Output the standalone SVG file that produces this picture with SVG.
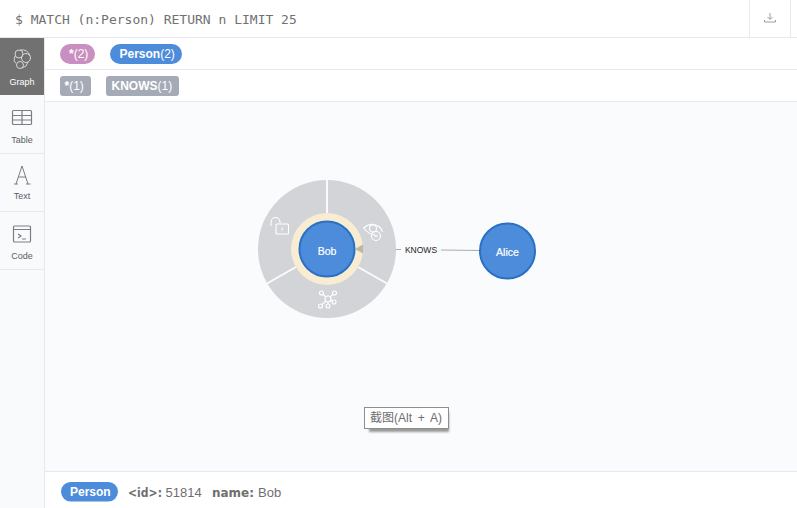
<svg xmlns="http://www.w3.org/2000/svg" width="797" height="508" viewBox="0 0 797 508">
<defs><filter id="blur" x="-10%" y="-30%" width="120%" height="160%"><feGaussianBlur stdDeviation="1"/></filter></defs>
<style>
text{font-family:"Liberation Sans",Arial,sans-serif}
.rule{stroke:#e6e9ef;stroke-width:1;fill:none}
.tab{font-size:9px;fill:#5a5d63;text-anchor:middle}
.ic{fill:none;stroke:#7b7e84;stroke-width:1.2}
.pill{font-size:12px;fill:#fff}
.w{fill:none;stroke:#fff;stroke-width:1.1}
.node{fill:#4c8cdb;stroke:#2a70c3;stroke-width:2}
.nt{font-size:10.500px;fill:#fff;text-anchor:middle;font-weight:500;stroke:#fff;stroke-width:.2}
.key{font-family:"DejaVu Sans",sans-serif;font-weight:bold;font-size:11.500px;fill:#6f6f70}
.val{font-size:13px;fill:#6f6f70}
</style>
<rect width="797" height="508" fill="#fff"/>
<rect x="45" y="102" width="752" height="369" fill="#fafbfd"/>
<rect x="0" y="38" width="45" height="470" fill="#f9fafc"/>
<g id="header">
<text x="15" y="24" style="font-family:'DejaVu Sans Mono','Liberation Mono',monospace" font-size="13" fill="#717172">$ MATCH (n:Person) RETURN n LIMIT 25</text>
<path class="rule" d="M0 37.500H797M749.500 0V37M790.500 0V37"/>
<path d="M770 13v6M767.500 17l2.500 2.500 2.500-2.500M764.500 20v2h11v-2" fill="none" stroke="#9a9da3" stroke-width="1"/>
</g>
<g id="sidebar">
<rect x="0" y="38" width="44.500" height="57" fill="#717172"/>
<path class="rule" d="M44.500 38V508M0 153.500H45M0 211.500H45M0 269.500H45"/>
<g fill="none" stroke="#d5d6d8" stroke-width="1"><circle cx="19" cy="54" r="4"/><circle cx="26" cy="58" r="4.500"/><circle cx="20" cy="65" r="3.500"/><path d="M15 56q-2 6 1 7M20 50q8-1 10 6M28 62q-1 5-6 6"/></g>
<text class="tab" x="22" y="85" style="fill:#fff">Graph</text>
<g class="ic"><rect x="12.500" y="110.500" width="19" height="14" rx="1"/><path d="M12.500 115.500h19M12.500 120h19M22 110.500v14"/></g>
<text class="tab" x="22" y="143">Table</text>
<path d="M14 184h4M26 184h4.500M16 184l6-18 6 18M18 177h8" fill="none" stroke="#7b7e84" stroke-width="1"/>
<text class="tab" x="22" y="199">Text</text>
<g class="ic"><rect x="13.500" y="226" width="17" height="16" rx="1"/><path d="M13.500 229.500h17M18 234l3 2-3 2M22 239h4"/></g>
<text class="tab" x="22" y="259">Code</text>
</g>
<g id="legend">
<path class="rule" d="M45 69.500H797M45 101.500H797"/>
<rect x="60" y="44" width="35" height="20" rx="10" fill="#c88fc0"/>
<text class="pill" x="69" y="58"><tspan font-weight="bold">*</tspan>(2)</text>
<rect x="110" y="44" width="72" height="20" rx="10" fill="#4c8cdb"/>
<text class="pill" x="119.500" y="58"><tspan font-weight="bold">Person</tspan>(2)</text>
<rect x="60" y="76" width="31" height="20" rx="3" fill="#a5abb6"/>
<text class="pill" x="64.500" y="90"><tspan font-weight="bold">*</tspan>(1)</text>
<rect x="106" y="76" width="73" height="20" rx="3" fill="#a5abb6"/>
<text class="pill" x="111.500" y="90"><tspan font-weight="bold">KNOWS</tspan>(1)</text>
</g>
<g id="connectors">
<path d="M396 249.500H401M441 250L480 250.500" stroke="#a5abb6" stroke-width="1" fill="none"/>
<text x="421" y="253" font-size="8.500" fill="#222" text-anchor="middle">KNOWS</text>
</g>
<g id="node-bob">
<circle cx="327" cy="249" r="69" fill="#d2d4d8"/>
<path d="M327 180V213M267 283.500L296 267M387 283.500L358 267" stroke="#fbfbfd" stroke-width="2" fill="none"/>
<circle cx="327" cy="249" r="36" fill="#f8ecd2"/>
<circle class="node" cx="327" cy="249" r="27.500"/>
<path d="M355 249l8-4.500v9z" fill="#bdb89f"/>
<text class="nt" x="327" y="255">Bob</text>
<g class="w"><rect x="276" y="224" width="12.500" height="10" rx="1"/><path d="M271 226v-4a4.500 4.500 0 0 1 9 0v1M282.200 227.500v3"/></g>
<g class="w"><path d="M363.500 228q8-7 16-1q3 3 3 5M363.500 228q6 7 12 7"/><circle cx="373" cy="228.500" r="3.500"/><circle cx="376" cy="236" r="4.500"/><path d="M374 236h4"/></g>
<g class="w"><circle cx="328" cy="299" r="3"/><circle cx="321.500" cy="293" r="2"/><circle cx="334.500" cy="293" r="2"/><circle cx="320.500" cy="306" r="2"/><circle cx="334" cy="302" r="2"/><circle cx="328" cy="306" r="2"/><path d="M323 294.500l3 2.500M333 294.500l-3 2.500M322 304.500l4-3.500M331 300l2 1.200M328 302v2"/></g>
</g>
<g id="node-alice">
<circle class="node" cx="507.500" cy="251" r="27.500"/>
<text class="nt" x="507.500" y="256">Alice</text>
</g>
<g id="tooltip">
<rect x="369" y="412" width="80" height="20" fill="#999" filter="url(#blur)"/>
<rect x="364.500" y="407.500" width="84" height="21" fill="#fff" stroke="#8e8e8e"/>
<text x="370" y="422" font-size="12" word-spacing="2.500" fill="#6e6e6e" style="font-family:'Liberation Sans','Noto Sans CJK SC',sans-serif">截图(Alt + A)</text>
</g>
<g id="status">
<path class="rule" d="M45 471.500H797"/>
<rect x="61" y="482" width="57" height="19.500" rx="9.750" fill="#4c8cdb"/>
<text x="70" y="496" font-size="12" font-weight="bold" fill="#fff">Person</text>
<text class="key" x="128" y="497" textLength="34" lengthAdjust="spacingAndGlyphs">&lt;id&gt;:</text>
<text class="val" x="165.500" y="497">51814</text>
<text class="key" x="212" y="497" textLength="42" lengthAdjust="spacingAndGlyphs">name:</text>
<text class="val" x="258" y="497">Bob</text>
</g>
</svg>
